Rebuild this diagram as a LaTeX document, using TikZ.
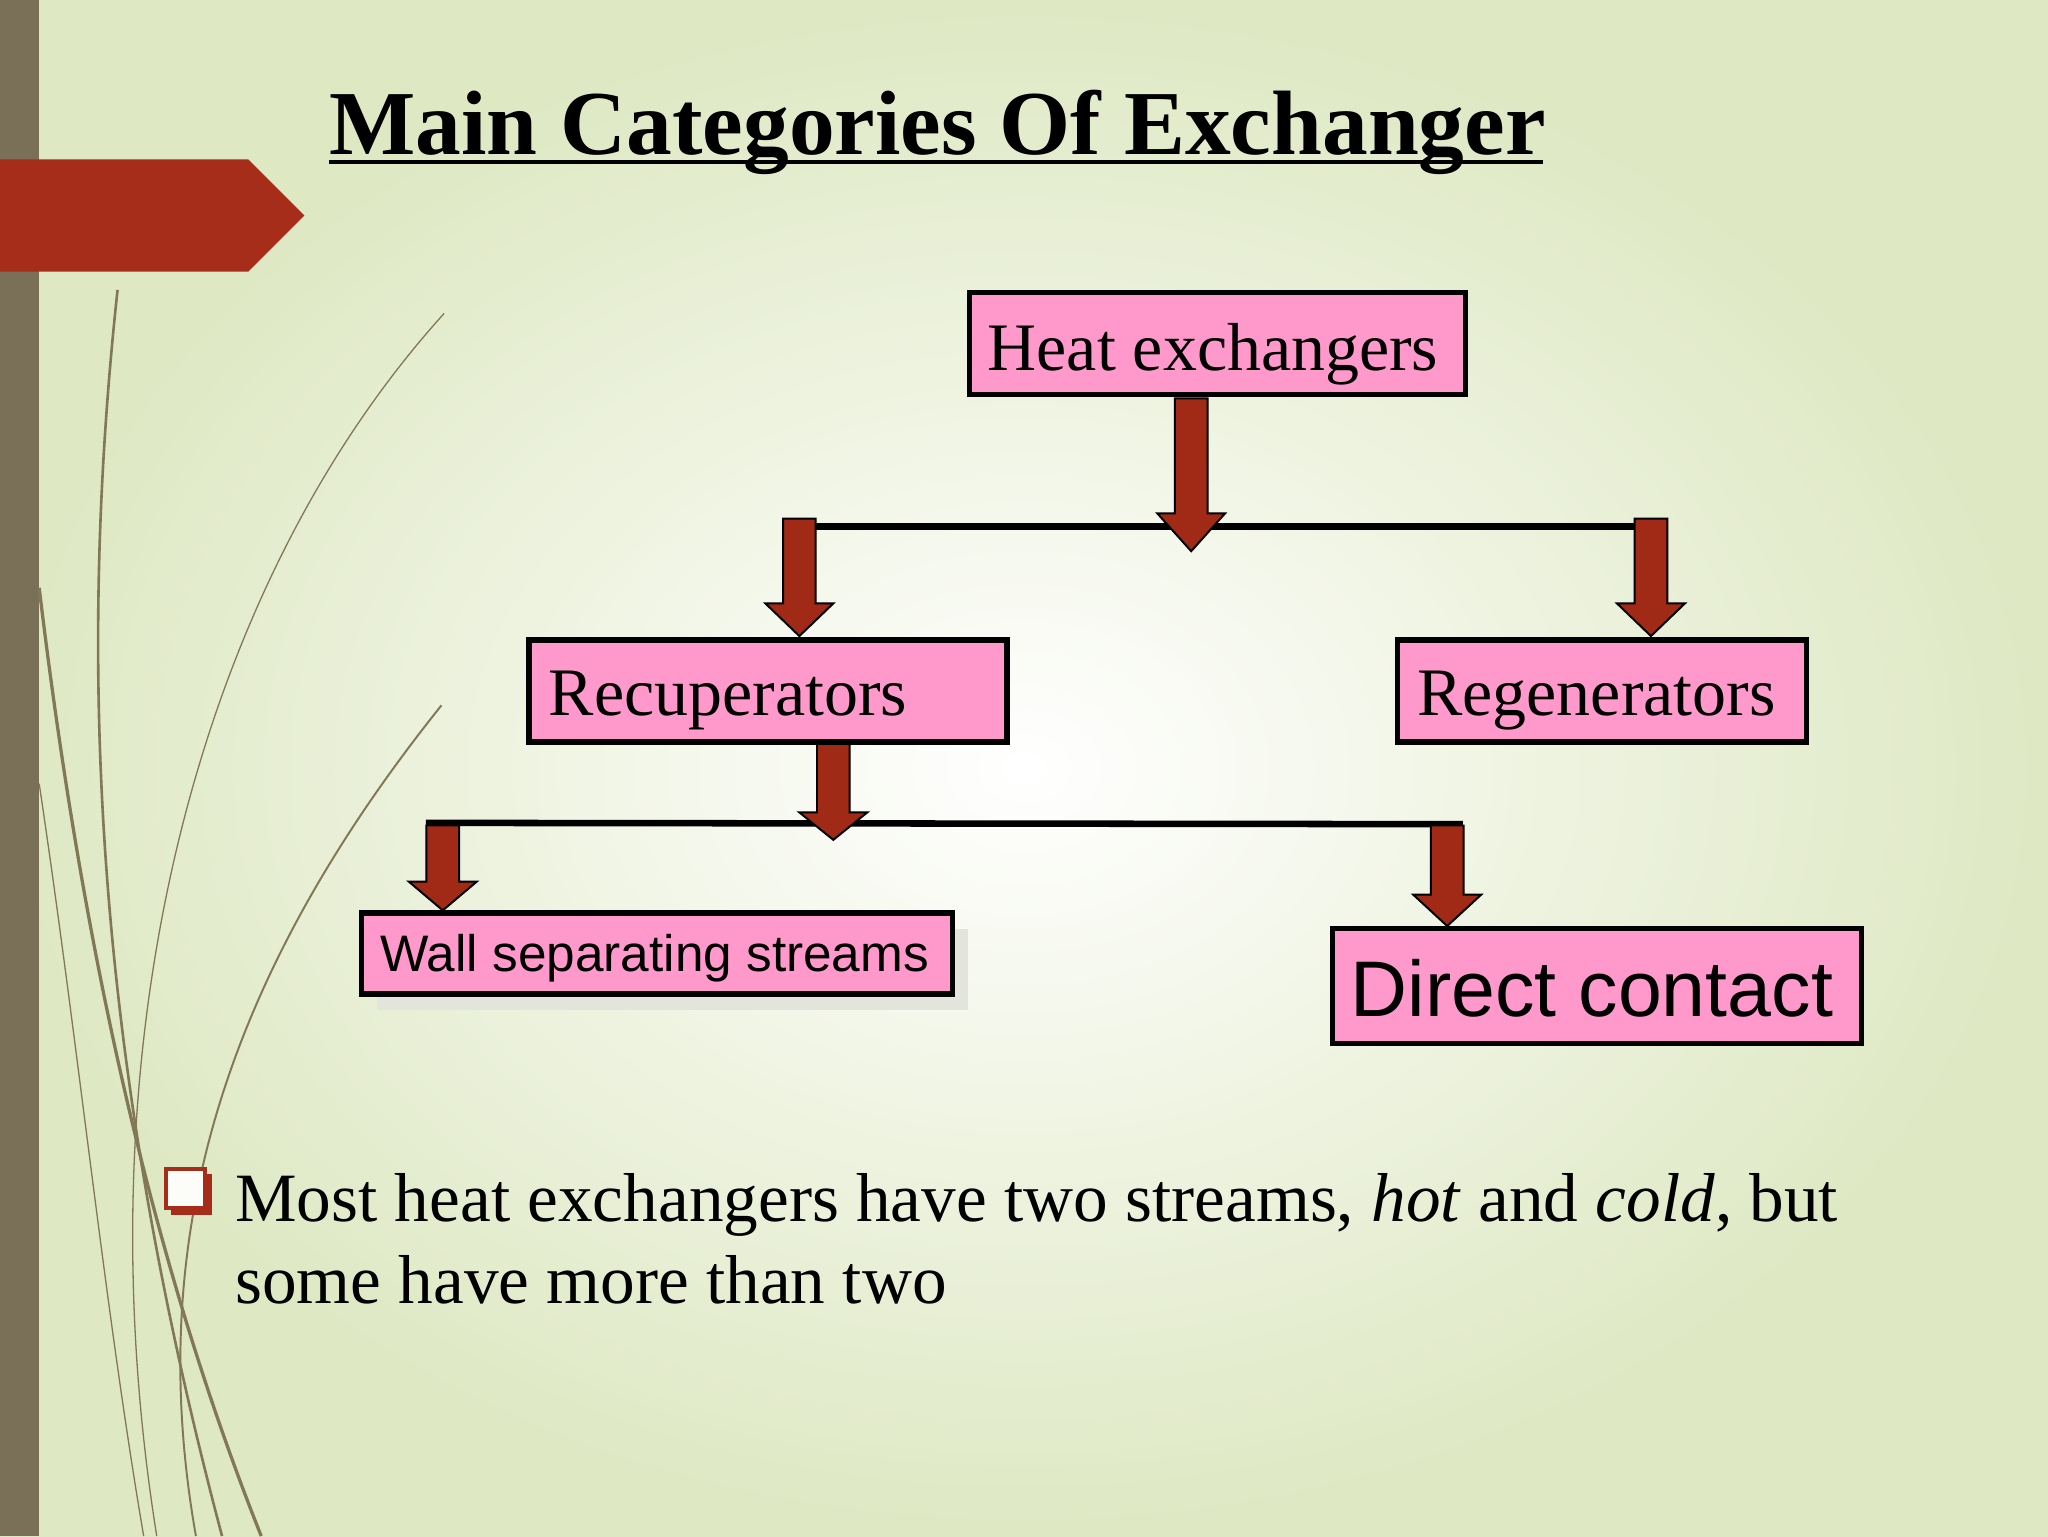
\documentclass[tikz,border=0pt]{standalone}
\usepackage{fontspec}
\setmainfont{Liberation Serif}
\setsansfont{Liberation Sans}
\usetikzlibrary{calc}
\definecolor{bgedge}{RGB}{222,232,195}
\definecolor{barcol}{RGB}{122,112,88}
\definecolor{tabred}{RGB}{165,45,25}
\definecolor{pinkbox}{RGB}{255,153,204}
\definecolor{arrred}{RGB}{160,42,22}
\definecolor{curvecol}{RGB}{130,120,85}
\newcommand{\blockarrow}[4]{% cx, ytop, yshaftend, ytip
 \draw[fill=arrred,line width=1.5pt,line join=miter] (#1-12.5,#2) -- (#1+12.5,#2) -- (#1+12.5,#3) -- (#1+26,#3) -- (#1,#4) -- (#1-26,#3) -- (#1-12.5,#3) -- cycle;}
\tikzset{box/.style={draw=black,fill=pinkbox,line width=4pt,inner sep=0pt,anchor=north west}}
\begin{document}
\begin{tikzpicture}[x=1pt,y=-1pt]
\useasboundingbox (0,0) rectangle (1568,1176);
\shade[inner color=white,outer color=bgedge] (0,0) rectangle (1568,1176);
\fill[barcol] (0,0) rectangle (30,1176);
\fill[tabred] (0,122) -- (190,122) -- (233,165) -- (190,208) -- (0,208) -- cycle;
% decorative curves
\begin{scope}[curvecol,line width=2pt]
\draw (90,222) .. controls (60,500) and (70,800) .. (170,1176);
\draw[line width=1pt] (340,240) .. controls (150,450) and (60,800) .. (120,1176);
\draw[line width=1.5pt] (338,540) .. controls (170,750) and (110,950) .. (150,1176);
\draw[line width=2.5pt] (30,450) .. controls (60,700) and (110,950) .. (200,1176);
\draw[line width=1pt] (30,600) .. controls (60,800) and (80,1000) .. (110,1176);
\end{scope}
% title
\node[anchor=base west,inner sep=0pt] (title) at (252,118) {\fontsize{70}{80}\selectfont\bfseries Main Categories Of Exchanger};
\draw[line width=3pt] (252,124) -- (1181,124);
% lines
\draw[line width=5pt] (600,403) -- (1277,403);
\draw[line width=5pt] (326,630) -- (1120,631);
% arrows
\blockarrow{912}{305}{393}{422}
\blockarrow{612}{397}{462}{487}
\blockarrow{1264}{397}{462}{487}
\blockarrow{638}{568}{622}{643}
\blockarrow{339}{632}{675}{697}
\blockarrow{1108}{632}{685}{709}
% boxes
\node[box,minimum width=380pt,minimum height=78pt] (he) at (740,222) {};
\node[anchor=base west,inner sep=0pt] at (756,284) {\fontsize{52}{60}\selectfont Heat exchangers};
\node[box,minimum width=366pt,minimum height=78pt] (rec) at (403,488) {};
\node[anchor=base west,inner sep=0pt] at (420,548) {\fontsize{52}{60}\selectfont Recuperators};
\node[box,minimum width=313pt,minimum height=78pt] (reg) at (1068,488) {};
\node[anchor=base west,inner sep=0pt] at (1085,548) {\fontsize{52}{60}\selectfont Regenerators};
\fill[bgedge!60!gray!40] (289,711) rectangle (741,773);
\node[box,minimum width=452pt,minimum height=62pt] (wall) at (275,697) {};
\node[anchor=base west,inner sep=0pt] at (291,744) {\fontsize{39.3}{44}\selectfont\sffamily Wall separating streams};
\node[box,minimum width=405pt,minimum height=88pt] (dc) at (1018,709) {};
\node[anchor=base west,inner sep=0pt] at (1034,778) {\fontsize{60.4}{70}\selectfont\sffamily Direct contact};
% bullet
\fill[tabred] (131,899) rectangle (162,930);
\fill[white!90!bgedge] (127,895) rectangle (157,925);
\draw[tabred,line width=3pt] (127,895) rectangle (157,925);
\node[anchor=base west,inner sep=0pt] (l1) at (180,935) {\fontsize{53}{60}\selectfont Most heat exchangers have two streams, \textit{hot} and \textit{cold}, but};
\node[anchor=base west,inner sep=0pt] (l2) at (180,998) {\fontsize{53}{60}\selectfont some have more than two};
\end{tikzpicture}
\end{document}
